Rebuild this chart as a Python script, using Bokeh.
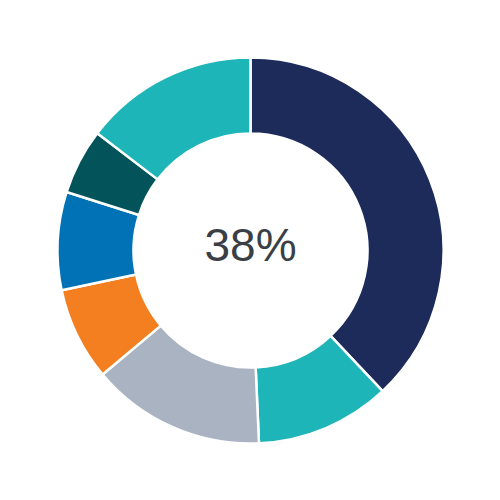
from math import pi

import numpy as np
from bokeh.core.properties import value
from bokeh.embed import file_html
from bokeh.models import ColumnDataSource
from bokeh.plotting import figure
from bokeh.resources import INLINE

# segment shares, clockwise from 12 o'clock
shares = [38.0, 11.3, 14.6, 7.8, 8.2, 5.5, 14.6]
colors = ["#1d2b5b", "#1db5b8", "#a9b3c1", "#f37f21", "#0272b7", "#02545a", "#1db5b8"]
center_label = "38%"

# angles (bokeh counts counter-clockwise from +x, so go clockwise from top)
frac = np.array(shares) / sum(shares)
ends = np.cumsum(frac) * 2 * pi
starts = ends - frac * 2 * pi
src = ColumnDataSource(dict(
    start=pi / 2 - starts,
    end=pi / 2 - ends,
    color=colors,
))

# 1 data unit = 1px, ring centred at (250, 250) of the page
p = figure(width=484, height=484, x_range=(-250, 234), y_range=(-234, 250),
           output_backend="svg", toolbar_location=None, min_border=0)
p.axis.visible = False
p.grid.visible = False
p.outline_line_color = None

p.annular_wedge(x=0, y=0, inner_radius=117, outer_radius=193,
                start_angle="start", end_angle="end", direction="clock",
                fill_color="color", line_color="white", line_width=2.5, source=src)

p.text(x=[0], y=[6], text=[center_label], text_font=value("Liberation Sans"),
       text_font_size="46px", text_color="#3a3f46",
       text_align="center", text_baseline="middle")

open("out.html", "w").write(file_html(p, INLINE))
